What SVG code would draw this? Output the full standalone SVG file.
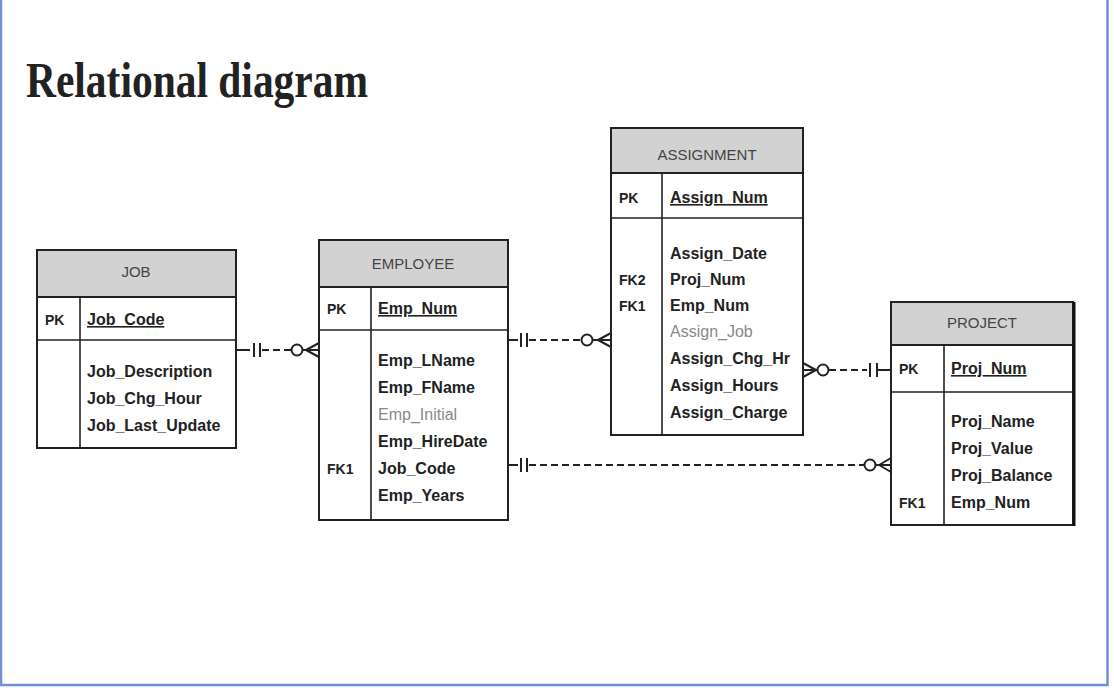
<svg xmlns="http://www.w3.org/2000/svg" width="1114" height="688" viewBox="0 0 1114 688">
<style>
.box{fill:#fff;stroke:#222;stroke-width:2}
.hdr{fill:#d2d2d2;stroke:#222;stroke-width:2}
.ln{stroke:#222;stroke-width:1.6;fill:none}
.ht{font-family:"Liberation Sans",Arial,sans-serif;font-size:15px;fill:#444;text-anchor:middle}
.k{font-family:"Liberation Sans",Arial,sans-serif;font-size:14px;font-weight:bold;fill:#222}
.f{font-family:"Liberation Sans",Arial,sans-serif;font-size:16px;font-weight:bold;fill:#222}
.fl{font-family:"Liberation Sans",Arial,sans-serif;font-size:16px;fill:#888}
.u{text-decoration:underline}
.c{stroke:#222;stroke-width:2;fill:none}
.d{stroke:#222;stroke-width:2;fill:none;stroke-dasharray:7,4}
.o{stroke:#222;stroke-width:2;fill:#fff}
</style>
<rect x="0" y="0" width="1114" height="688" fill="#fff"/>
<path d="M1,0 V685 H1107.5 V0" fill="none" stroke="#6f8fd6" stroke-width="2.5"/>
<text x="26" y="97" font-family="Liberation Serif,serif" font-size="50" font-weight="bold" fill="#222" textLength="342" lengthAdjust="spacingAndGlyphs">Relational diagram</text>

<g id="connectors">
  <!-- JOB - EMPLOYEE -->
  <line class="c" x1="236" y1="350" x2="250" y2="350"/>
  <line class="c" x1="254" y1="343" x2="254" y2="357"/>
  <line class="c" x1="260" y1="343" x2="260" y2="357"/>
  <line class="d" x1="262" y1="350" x2="291" y2="350"/>
  <circle class="o" cx="297" cy="350" r="5.5"/>
  <path class="c" d="M303,350 H319 M306,350 L319,343 M306,350 L319,357"/>
  <!-- EMPLOYEE - ASSIGNMENT -->
  <line class="c" x1="508" y1="340" x2="518" y2="340"/>
  <line class="c" x1="521" y1="333" x2="521" y2="347"/>
  <line class="c" x1="527" y1="333" x2="527" y2="347"/>
  <line class="d" x1="529" y1="340" x2="581" y2="340"/>
  <circle class="o" cx="587" cy="340" r="5.5"/>
  <path class="c" d="M593,340 H611 M598,340 L611,333 M598,340 L611,347"/>
  <!-- ASSIGNMENT - PROJECT -->
  <path class="c" d="M803,370 H817 M816,370 L803,363 M816,370 L803,377"/>
  <circle class="o" cx="823" cy="370" r="5.5"/>
  <line class="d" x1="829" y1="370" x2="867" y2="370"/>
  <line class="c" x1="870" y1="363" x2="870" y2="377"/>
  <line class="c" x1="877" y1="363" x2="877" y2="377"/>
  <line class="c" x1="877" y1="370" x2="891" y2="370"/>
  <!-- EMPLOYEE - PROJECT -->
  <line class="c" x1="508" y1="465" x2="518" y2="465"/>
  <line class="c" x1="521" y1="458" x2="521" y2="472"/>
  <line class="c" x1="527" y1="458" x2="527" y2="472"/>
  <line class="d" x1="529" y1="465" x2="864" y2="465"/>
  <circle class="o" cx="870" cy="465" r="5.5"/>
  <path class="c" d="M876,465 H891 M879,465 L891,458 M879,465 L891,472"/>
</g>

<g id="job">
  <rect class="box" x="37" y="250" width="199" height="198"/>
  <rect class="hdr" x="37" y="250" width="199" height="47"/>
  <line class="ln" x1="37" y1="340" x2="236" y2="340"/>
  <line class="ln" x1="80" y1="297" x2="80" y2="448"/>
  <text class="ht" x="136" y="277">JOB</text>
  <text class="k" x="45" y="325">PK</text>
  <text class="f u" x="87" y="325">Job_Code</text>
  <text class="f" x="87" y="377">Job_Description</text>
  <text class="f" x="87" y="404">Job_Chg_Hour</text>
  <text class="f" x="87" y="431">Job_Last_Update</text>
</g>

<g id="employee">
  <rect class="box" x="319" y="240" width="189" height="280"/>
  <rect class="hdr" x="319" y="240" width="189" height="47"/>
  <line class="ln" x1="319" y1="330" x2="508" y2="330"/>
  <line class="ln" x1="371" y1="287" x2="371" y2="520"/>
  <text class="ht" x="413" y="269">EMPLOYEE</text>
  <text class="k" x="327" y="314">PK</text>
  <text class="f u" x="378" y="314">Emp_Num</text>
  <text class="f" x="378" y="366">Emp_LName</text>
  <text class="f" x="378" y="393">Emp_FName</text>
  <text class="fl" x="378" y="420">Emp_Initial</text>
  <text class="f" x="378" y="447">Emp_HireDate</text>
  <text class="k" x="327" y="474">FK1</text>
  <text class="f" x="378" y="474">Job_Code</text>
  <text class="f" x="378" y="501">Emp_Years</text>
</g>

<g id="assignment">
  <rect class="box" x="611" y="128" width="192" height="307"/>
  <rect class="hdr" x="611" y="128" width="192" height="45"/>
  <line class="ln" x1="611" y1="218" x2="803" y2="218"/>
  <line class="ln" x1="662" y1="173" x2="662" y2="435"/>
  <text class="ht" x="707" y="160">ASSIGNMENT</text>
  <text class="k" x="619" y="203">PK</text>
  <text class="f u" x="670" y="203">Assign_Num</text>
  <text class="f" x="670" y="259">Assign_Date</text>
  <text class="k" x="619" y="285">FK2</text>
  <text class="f" x="670" y="285">Proj_Num</text>
  <text class="k" x="619" y="311">FK1</text>
  <text class="f" x="670" y="311">Emp_Num</text>
  <text class="fl" x="670" y="337">Assign_Job</text>
  <text class="f" x="670" y="364">Assign_Chg_Hr</text>
  <text class="f" x="670" y="391">Assign_Hours</text>
  <text class="f" x="670" y="418">Assign_Charge</text>
</g>

<g id="project">
  <rect class="box" x="891" y="302" width="182" height="223"/>
  <rect class="hdr" x="891" y="302" width="182" height="43"/>
  <line class="ln" x1="891" y1="392" x2="1073" y2="392"/>
  <line class="ln" x1="944" y1="345" x2="944" y2="525"/>
  <line x1="1074" y1="302" x2="1074" y2="526" stroke="#111" stroke-width="3"/>
  <text class="ht" x="982" y="328">PROJECT</text>
  <text class="k" x="899" y="374">PK</text>
  <text class="f u" x="951" y="374">Proj_Num</text>
  <text class="f" x="951" y="427">Proj_Name</text>
  <text class="f" x="951" y="454">Proj_Value</text>
  <text class="f" x="951" y="481">Proj_Balance</text>
  <text class="k" x="899" y="508">FK1</text>
  <text class="f" x="951" y="508">Emp_Num</text>
</g>
</svg>
